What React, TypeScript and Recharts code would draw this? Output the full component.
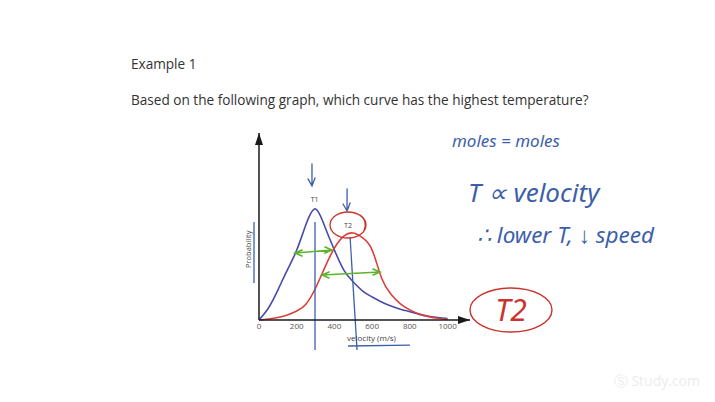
import React from "react"
import { LineChart, Line, XAxis, YAxis, ReferenceLine, ReferenceDot, Label } from "recharts"

// velocity (m/s) and relative probability
const velocity = [0, 50, 100, 150, 200, 250, 300, 350, 400, 450, 500, 550, 600, 650, 700, 750, 800, 850, 900, 950, 1000]
const probT1 = [0, 6.4, 16, 26.7, 37.4, 51.3, 59.4, 49.7, 37.4, 26.7, 20.3, 15.5, 12.3, 9.6, 7.5, 5.8, 4.4, 3.0, 2.0, 1.3, 0.8]
const probT2 = [0, 0.5, 1.3, 2.7, 4.8, 8.6, 17.1, 28.3, 38.5, 44.9, 46.5, 43.9, 37.4, 22.5, 13.8, 8.6, 5.4, 3.2, 1.8, 0.9, 0.3]
const xTicks = [0, 200, 400, 600, 800, 1000]

const data = velocity.map((v, i) => ({ v, t1: probT1[i], t2: probT2[i] }))

const INK_BLUE = "#3d5fa9"
const INK_RED = "#c9342d"
const INK_GREEN = "#5db32c"

const xArrow = (p: any) => <path d={`M${p.cx},${p.cy} l-12,-4 l0,8 z`} fill="#1a1a1a" />
const yArrow = (p: any) => <path d={`M${p.cx},${p.cy} l-4,12 l8,0 z`} fill="#1a1a1a" />

// hand drawn down arrow, tip at the dot
const downArrow = (p: any) => (
  <path
    d={`M${p.cx},${p.cy - 22} L${p.cx},${p.cy} M${p.cx - 4},${p.cy - 7} L${p.cx},${p.cy} L${p.cx + 3},${p.cy - 8}`}
    stroke={INK_BLUE}
    strokeWidth={1.3}
    fill="none"
    strokeLinecap="round"
  />
)

const redRing = (p: any) => (
  <g fill="none" stroke={INK_RED} strokeWidth={1.3}>
    <ellipse cx={p.cx} cy={p.cy} rx={18} ry={13} />
    <path d={`M${p.cx + 12},${p.cy - 10} q8,6 4,16`} />
  </g>
)

const dblArrow = (p: any) => {
  const { x1, y1, x2, y2 } = p
  return (
    <path
      d={`M${x1},${y1} L${x2},${y2} M${x1 + 7},${y1 - 3} L${x1},${y1} L${x1 + 7},${y1 + 3} M${x2 - 7},${y2 - 3} L${x2},${y2} L${x2 - 7},${y2 + 3}`}
      stroke={INK_GREEN}
      strokeWidth={1.6}
      fill="none"
      strokeLinecap="round"
    />
  )
}

const inkLine = { stroke: INK_BLUE, strokeWidth: 1.3, ifOverflow: "visible" as const }

export default function App() {
  return (
    <div style={{ position: "absolute", left: 0, top: 0, width: 715, height: 402, background: "#fff", overflow: "hidden" }}>
      <div style={{ position: "absolute", left: 131, top: 54, fontFamily: "Open Sans", fontSize: 13.6, color: "#333", lineHeight: "19px" }}>
        Example 1
      </div>
      <div style={{ position: "absolute", left: 131, top: 90, fontFamily: "Open Sans", fontSize: 13.6, color: "#333", lineHeight: "19px", whiteSpace: "nowrap" }}>
        Based on the following graph, which curve has the highest temperature?
      </div>

      <div style={{ position: "absolute", left: 0, top: 0 }}>
        <LineChart width={715} height={402} data={data} margin={{ top: 133, right: 245, bottom: 52, left: 249 }}>
          <XAxis
            dataKey="v"
            type="number"
            domain={[0, 1119]}
            ticks={xTicks}
            allowDataOverflow
            height={30}
            tickLine={false}
            tickSize={0}
            tickMargin={3}
            axisLine={{ stroke: "#1a1a1a", strokeWidth: 1.5 }}
            tick={{ fontSize: 8, fill: "#555", fontFamily: "Open Sans" }}
          >
            <Label value="velocity (m/s)" position="insideBottom" offset={9} dx={7} fontSize={8} fill="#444" fontFamily="Open Sans" />
          </XAxis>
          <YAxis
            type="number"
            domain={[0, 100]}
            width={10}
            tick={false}
            tickLine={false}
            axisLine={{ stroke: "#1a1a1a", strokeWidth: 1.5 }}
          >
            <Label value="Probability" position="left" offset={1} angle={-90} dy={4} fontSize={7.5} fill="#444" fontFamily="Open Sans" />
          </YAxis>

          <Line type="natural" dataKey="t1" stroke="#4a4aa8" strokeWidth={1.6} dot={false} isAnimationActive={false} />
          <Line type="natural" dataKey="t2" stroke="#d8413a" strokeWidth={1.6} dot={false} isAnimationActive={false} />

          <ReferenceDot x={1119} y={0} ifOverflow="visible" shape={xArrow} />
          <ReferenceDot x={0} y={100} ifOverflow="visible" shape={yArrow} />

          <ReferenceDot x={295} y={59.4} r={0} ifOverflow="visible" fill="none" stroke="none">
            <Label value="T1" position="top" offset={6.5} fontSize={7} fill="#444" fontFamily="Open Sans" />
          </ReferenceDot>
          <ReferenceDot x={472} y={46.5} r={0} ifOverflow="visible" fill="none" stroke="none">
            <Label value="T2" position="top" offset={5.5} fontSize={7} fill="#444" fontFamily="Open Sans" />
          </ReferenceDot>

          {/* hand annotations */}
          <ReferenceDot x={281} y={71.7} ifOverflow="visible" shape={downArrow} />
          <ReferenceDot x={467} y={58.3} ifOverflow="visible" shape={downArrow} />
          <ReferenceDot x={472} y={50.8} ifOverflow="visible" shape={redRing} />
          <ReferenceLine segment={[{ x: 297, y: 52.4 }, { x: 297, y: -16 }]} {...inkLine} />
          <ReferenceLine segment={[{ x: 483, y: 44.4 }, { x: 520, y: -16 }]} {...inkLine} />
          <ReferenceLine segment={[{ x: 472, y: -13.9 }, { x: 801, y: -13.4 }]} {...inkLine} />
          <ReferenceLine segment={[{ x: -26.5, y: 52.4 }, { x: -26.5, y: 19.8 }]} {...inkLine} />
          <ReferenceLine segment={[{ x: 191, y: 35.8 }, { x: 387, y: 37.4 }]} ifOverflow="visible" shape={dblArrow} />
          <ReferenceLine segment={[{ x: 334, y: 24.1 }, { x: 642, y: 25.7 }]} ifOverflow="visible" shape={dblArrow} />
        </LineChart>
      </div>

      <svg width={715} height={402} style={{ position: "absolute", left: 0, top: 0, pointerEvents: "none" }}>
        <g fill={INK_BLUE} fontFamily="Noto Sans" fontStyle="italic">
          <text x={452} y={147} fontSize={17}>moles = moles</text>
          <text x={468} y={202} fontSize={26}>T ∝ velocity</text>
          <text x={477} y={243} fontSize={22.5}>∴ lower T, ↓ speed</text>
        </g>
        <ellipse cx={511} cy={310} rx={41} ry={22} fill="none" stroke={INK_RED} strokeWidth={1.4} />
        <text x={511} y={321} fontSize={30} fill={INK_RED} textAnchor="middle" fontFamily="Noto Sans" fontStyle="italic">T2</text>
        <text x={700} y={386} fontSize={14} fill="#ececec" textAnchor="end" fontFamily="Open Sans">Ⓢ Study.com</text>
      </svg>
    </div>
  )
}
